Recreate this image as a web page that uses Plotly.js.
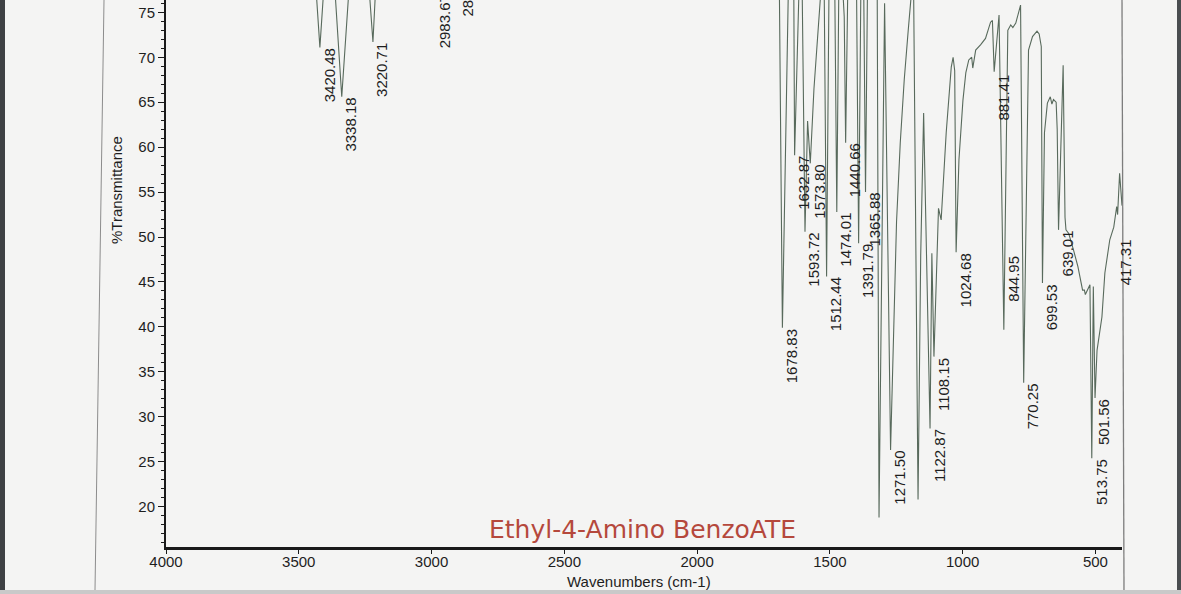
<!DOCTYPE html>
<html>
<head>
<meta charset="utf-8">
<script src="https://cdn.plot.ly/plotly-3.0.1.min.js"></script>
<style>html,body{margin:0;padding:0;background:#f4f4f3;}#chart{width:1181px;height:594px;}</style>
</head>
<body>
<div id="chart"></div>
<script>
// ---- Spectrum (wavenumber cm-1, %Transmittance) ----
const wavenumber = [4000,3850,3700,3560,3480,3436,3420.48,3405,3380,3365,3338.18,3310,3280,3236,3220.71,3210,3150,3060,2995,2983.67,2970,2940,2912,2898.2,2885,2800,2600,2300,2000,1850,1760,1720,1691,1678.83,1655,1645,1636,1632.87,1615,1605,1593.72,1584,1573.80,1560,1545,1530,1522,1512.44,1503,1490,1482,1474.01,1466,1455,1446,1440.66,1432,1410,1400,1391.79,1383,1373,1365.88,1358,1340,1322,1315,1294,1271.50,1249,1235,1220,1205,1194,1185,1168,1158,1147,1122.87,1116,1108.15,1091,1081,1062,1043,1036,1030,1024.68,1014,999,988,977,966,962,951,932,914,895,888,881.41,863,844.95,830,819,811,800,782,770.25,752,737,720,712,704,699.53,692,681,670,664,658,648,644,639.01,621.6,614.6,611,600.7,583,566,548.5,541.6,538,524,520.7,513.75,508,501.56,494,475.6,464.5,446,431,420,416.5,409,405.5,402,400];
const transmittance = [86.0,85.5,85.0,83.5,81.0,78.0,71.1,78.0,80.0,78.0,65.6,78.0,80.0,78.0,71.7,78.0,81.5,80.5,80.0,77.1,80.0,81.0,82.5,80.6,83.0,84.5,85.5,86.0,86.0,85.5,84.0,82.0,80.0,39.9,80.0,79.0,78.0,59.1,79.0,79.0,50.6,62.9,58.2,66.5,72.5,79.0,79.5,45.6,79.0,80.0,79.0,52.8,79.0,79.5,74.5,60.5,79.0,80.0,79.0,49.3,79.0,79.0,55.0,79.0,80.0,79.0,18.8,76.0,26.3,51.7,60.5,67.5,73.0,76.8,78.5,20.8,48.0,63.8,28.7,48.2,36.7,53.2,51.9,61.6,68.9,70.0,68.5,48.3,58.6,65.2,68.3,69.7,70.0,68.8,70.8,71.4,72.1,73.9,74.1,68.4,74.7,39.7,73.0,73.6,73.3,73.8,75.8,33.8,70.8,72.3,72.9,72.6,71.2,44.9,61.6,64.9,65.6,64.8,65.3,65.0,62.0,50.8,69.1,52.2,50.8,50.4,48.6,46.7,44.1,44.1,43.6,44.5,44.7,25.4,44.5,32.1,37.4,41.1,46.0,49.7,51.1,53.4,52.5,57.1,55.2,54.1,53.5];

// ---- Peak labels ----
const peakWn = [3420.48,3338.18,3220.71,2983.67,2898.2,1678.83,1632.87,1593.72,1573.80,1512.44,1474.01,1440.66,1391.79,1365.88,1271.50,1122.87,1108.15,1024.68,881.41,844.95,770.25,699.53,639.01,513.75,501.56,417.31];
const peakText = ["3420.48","3338.18","3220.71","2983.67","2898.20","1678.83","1632.87","1593.72","1573.80","1512.44","1474.01","1440.66","1391.79","1365.88","1271.50","1122.87","1108.15","1024.68","881.41","844.95","770.25","699.53","639.01","513.75","501.56","417.31"];
const peakT = [71.1,65.6,71.7,77.1,80.6,39.9,59.1,50.6,58.2,45.6,52.8,60.5,49.3,55.0,26.3,28.7,36.7,48.3,68.2,48.0,33.8,44.9,50.8,25.4,32.1,49.9];

// ---- Axis ticks ----
const xTicks = [4000,3500,3000,2500,2000,1500,1000,500];
const yTicks = [20,25,30,35,40,45,50,55,60,65,70,75];
const xRange = [4000,400];
const yRange = [15.52,76.37];

const xTitle = "Wavenumbers (cm-1)";
const yTitle = "%Transmittance";
const note = "Ethyl-4-Amino BenzoATE";

// ---- layout geometry (pixels) ----
const W = 1181, H = 594, L = 166, R = 1122, TOP = 0, BOT = 547;
const fx = p => (p - L) / (R - L);
const fy = p => (BOT - p) / (BOT - TOP);
const FONT = "Liberation Sans, Arial, sans-serif";

const annotations = peakWn.map((w, i) => {
  const t = peakT[i];
  const inside = t >= yRange[0] && t <= yRange[1];
  return {
    x: w, xref: 'x',
    y: inside ? t : (t - yRange[0]) / (yRange[1] - yRange[0]),
    yref: inside ? 'y' : 'paper',
    text: peakText[i], showarrow: false, textangle: -90,
    xanchor: 'center', yanchor: 'top', xshift: 9, yshift: 1,
    font: {family: FONT, size: 15, color: '#1e1e1e'}
  };
});
annotations.push({x: fx(117), y: fy(190), xref: 'paper', yref: 'paper', text: yTitle,
  showarrow: false, textangle: -90, xanchor: 'center', yanchor: 'middle',
  font: {family: FONT, size: 15, color: '#1e1e1e'}});
annotations.push({x: fx(639), y: fy(581), xref: 'paper', yref: 'paper', text: xTitle,
  showarrow: false, xanchor: 'center', yanchor: 'middle',
  font: {family: FONT, size: 15, color: '#1e1e1e'}});
annotations.push({x: fx(642), y: fy(529), xref: 'paper', yref: 'paper', text: note,
  showarrow: false, xanchor: 'center', yanchor: 'middle',
  font: {family: "DejaVu Sans, sans-serif", size: 25, color: '#b5483c'}});

const shapes = [
  {type: 'rect', xref: 'paper', yref: 'paper', x0: fx(0), x1: fx(5), y0: fy(H), y1: fy(0), fillcolor: '#3e4144', line: {width: 0}, layer: 'below'},
  {type: 'rect', xref: 'paper', yref: 'paper', x0: fx(1177), x1: fx(W), y0: fy(H), y1: fy(0), fillcolor: '#4a4d50', line: {width: 0}, layer: 'below'},
  {type: 'rect', xref: 'paper', yref: 'paper', x0: fx(0), x1: fx(W), y0: fy(H), y1: fy(590), fillcolor: '#c9c9c9', line: {width: 0}, layer: 'below'},
  {type: 'line', xref: 'paper', yref: 'paper', x0: fx(104), x1: fx(95), y0: fy(0), y1: fy(590), line: {color: '#8c8c8c', width: 1}},
  {type: 'line', xref: 'paper', yref: 'paper', x0: fx(1122), x1: fx(1124), y0: fy(0), y1: fy(590), line: {color: '#7d7d7d', width: 1.3}}
];

const trace = {
  x: wavenumber, y: transmittance, type: 'scatter', mode: 'lines',
  line: {color: '#586a5c', width: 1.1}, hoverinfo: 'skip', showlegend: false
};

const layout = {
  width: W, height: H,
  margin: {l: L, r: W - R, t: TOP, b: H - BOT, pad: 0},
  paper_bgcolor: '#f4f4f3', plot_bgcolor: 'rgba(0,0,0,0)',
  showlegend: false,
  xaxis: {
    range: xRange, tickvals: xTicks, ticktext: xTicks.map(String),
    ticks: 'outside', ticklen: 4, tickwidth: 1, tickcolor: '#1a1a1a',
    ticklabelstandoff: -5,
    showline: true, linewidth: 3, linecolor: '#1a1a1a', mirror: false,
    showgrid: false, zeroline: false,
    tickfont: {family: FONT, size: 15, color: '#1e1e1e'}
  },
  yaxis: {
    range: yRange, tickvals: yTicks, ticktext: yTicks.map(String),
    ticks: 'outside', ticklen: 6, tickwidth: 1, tickcolor: '#1a1a1a',
    minor: {dtick: 1, tick0: 0, ticks: 'outside', ticklen: 3, tickwidth: 1, tickcolor: '#1a1a1a', showgrid: false},
    showline: true, linewidth: 2, linecolor: '#1a1a1a',
    showgrid: false, zeroline: false,
    tickfont: {family: FONT, size: 15, color: '#1e1e1e'}
  },
  annotations: annotations,
  shapes: shapes
};

Plotly.newPlot('chart', [trace], layout, {staticPlot: true, displayModeBar: false});
</script>
</body>
</html>
